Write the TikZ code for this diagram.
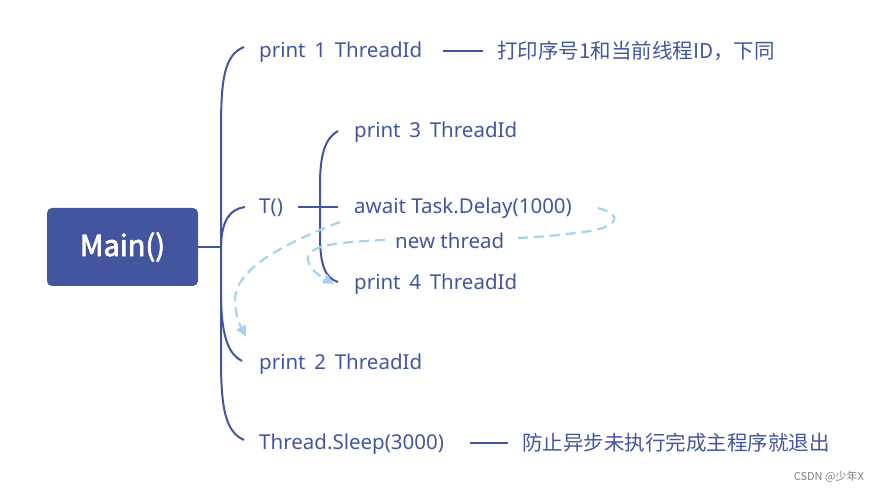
\documentclass[tikz,border=0pt]{standalone}
\usepackage{fontspec}
\setmainfont{Noto Sans}
\newfontfamily\cjk{Noto Sans CJK SC}
\newfontfamily\cjkb[FakeBold=2.5]{Noto Sans CJK SC}
\usetikzlibrary{arrows.meta}
\definecolor{navy}{HTML}{42559E}
\definecolor{lb}{HTML}{A6D3EA}
\begin{document}
\begin{tikzpicture}[x=1pt,y=-1pt,
  lbl/.style={anchor=west,text=navy,font=\fontsize{20.5}{24}\selectfont,inner sep=0pt},
  br/.style={draw=navy,line width=2pt},
  dsh/.style={draw=lb,line width=2.2pt,dash pattern=on 10pt off 6pt},
  tip/.style={-{Triangle[length=11pt,width=10pt,fill=lb]}}]
\useasboundingbox (0,0) rectangle (878,494);
\node[fill=navy,rounded corners=5pt,minimum width=151pt,minimum height=78pt,text=white,font=\cjkb\fontsize{29}{32}\selectfont] (main) at (122.5,247) {Main()};
\node[lbl] (p1) at (259,52) {print\, 1\, ThreadId};
\node[lbl] (t) at (259,208) {T()};
\node[lbl] (p2) at (259,364) {print\, 2\, ThreadId};
\node[lbl] (ts) at (259,444) {Thread.Sleep(3000)};
\node[lbl] (p3) at (354,132) {print\, 3\, ThreadId};
\node[lbl] (aw) at (354,208) {await Task.Delay(1000)};
\node[lbl] (p4) at (354,284) {print\, 4\, ThreadId};
\node[lbl] (nt) at (395,241) {new thread};
\node[lbl,font=\cjk\fontsize{20.5}{24}\selectfont] (c1) at (497,51) {打印序号1和当前线程ID，下同};
\node[lbl,font=\cjk\fontsize{20.5}{24}\selectfont] (c2) at (522,443) {防止异步未执行完成主程序就退出};
\node[anchor=east,text=gray,font=\cjk\fontsize{11}{13}\selectfont,inner sep=0pt] (csdn) at (864,477) {CSDN @少年X};
% main bracket
\coordinate (b0) at (221,247);
\draw[br] (main.east) -- (b0);
\draw[br] (244,47) .. controls (224,55) and (221,80) .. (221,130) -- (221,360) .. controls (221,410) and (226,432) .. (244,440);
\draw[br] (221,245) .. controls (222,220) and (230,209) .. (245,207);
\draw[br] (221,300) .. controls (222,340) and (230,355) .. (242,361);
\draw[br] (443,51) -- (483,51);
\draw[br] (470,443) -- (508,443);
% inner bracket
\draw[br] (298,207) -- (338,207);
\draw[br] (338,131) .. controls (325,138) and (320,155) .. (320,185) -- (320,235) .. controls (320,265) and (325,278) .. (338,282);
% dashed
\draw[dsh] (598,208) .. controls (625,215) and (618,228) .. (583,232) .. controls (560,235) and (540,237) .. (518,238);
\draw[dsh,tip] (385,240) .. controls (340,242) and (305,245) .. (308,260) .. controls (310,270) and (320,276) .. (334,284);
\draw[dsh,tip] (340,222) .. controls (280,245) and (235,270) .. (235,300) .. controls (235,315) and (240,325) .. (246,337);
\end{tikzpicture}
\end{document}
